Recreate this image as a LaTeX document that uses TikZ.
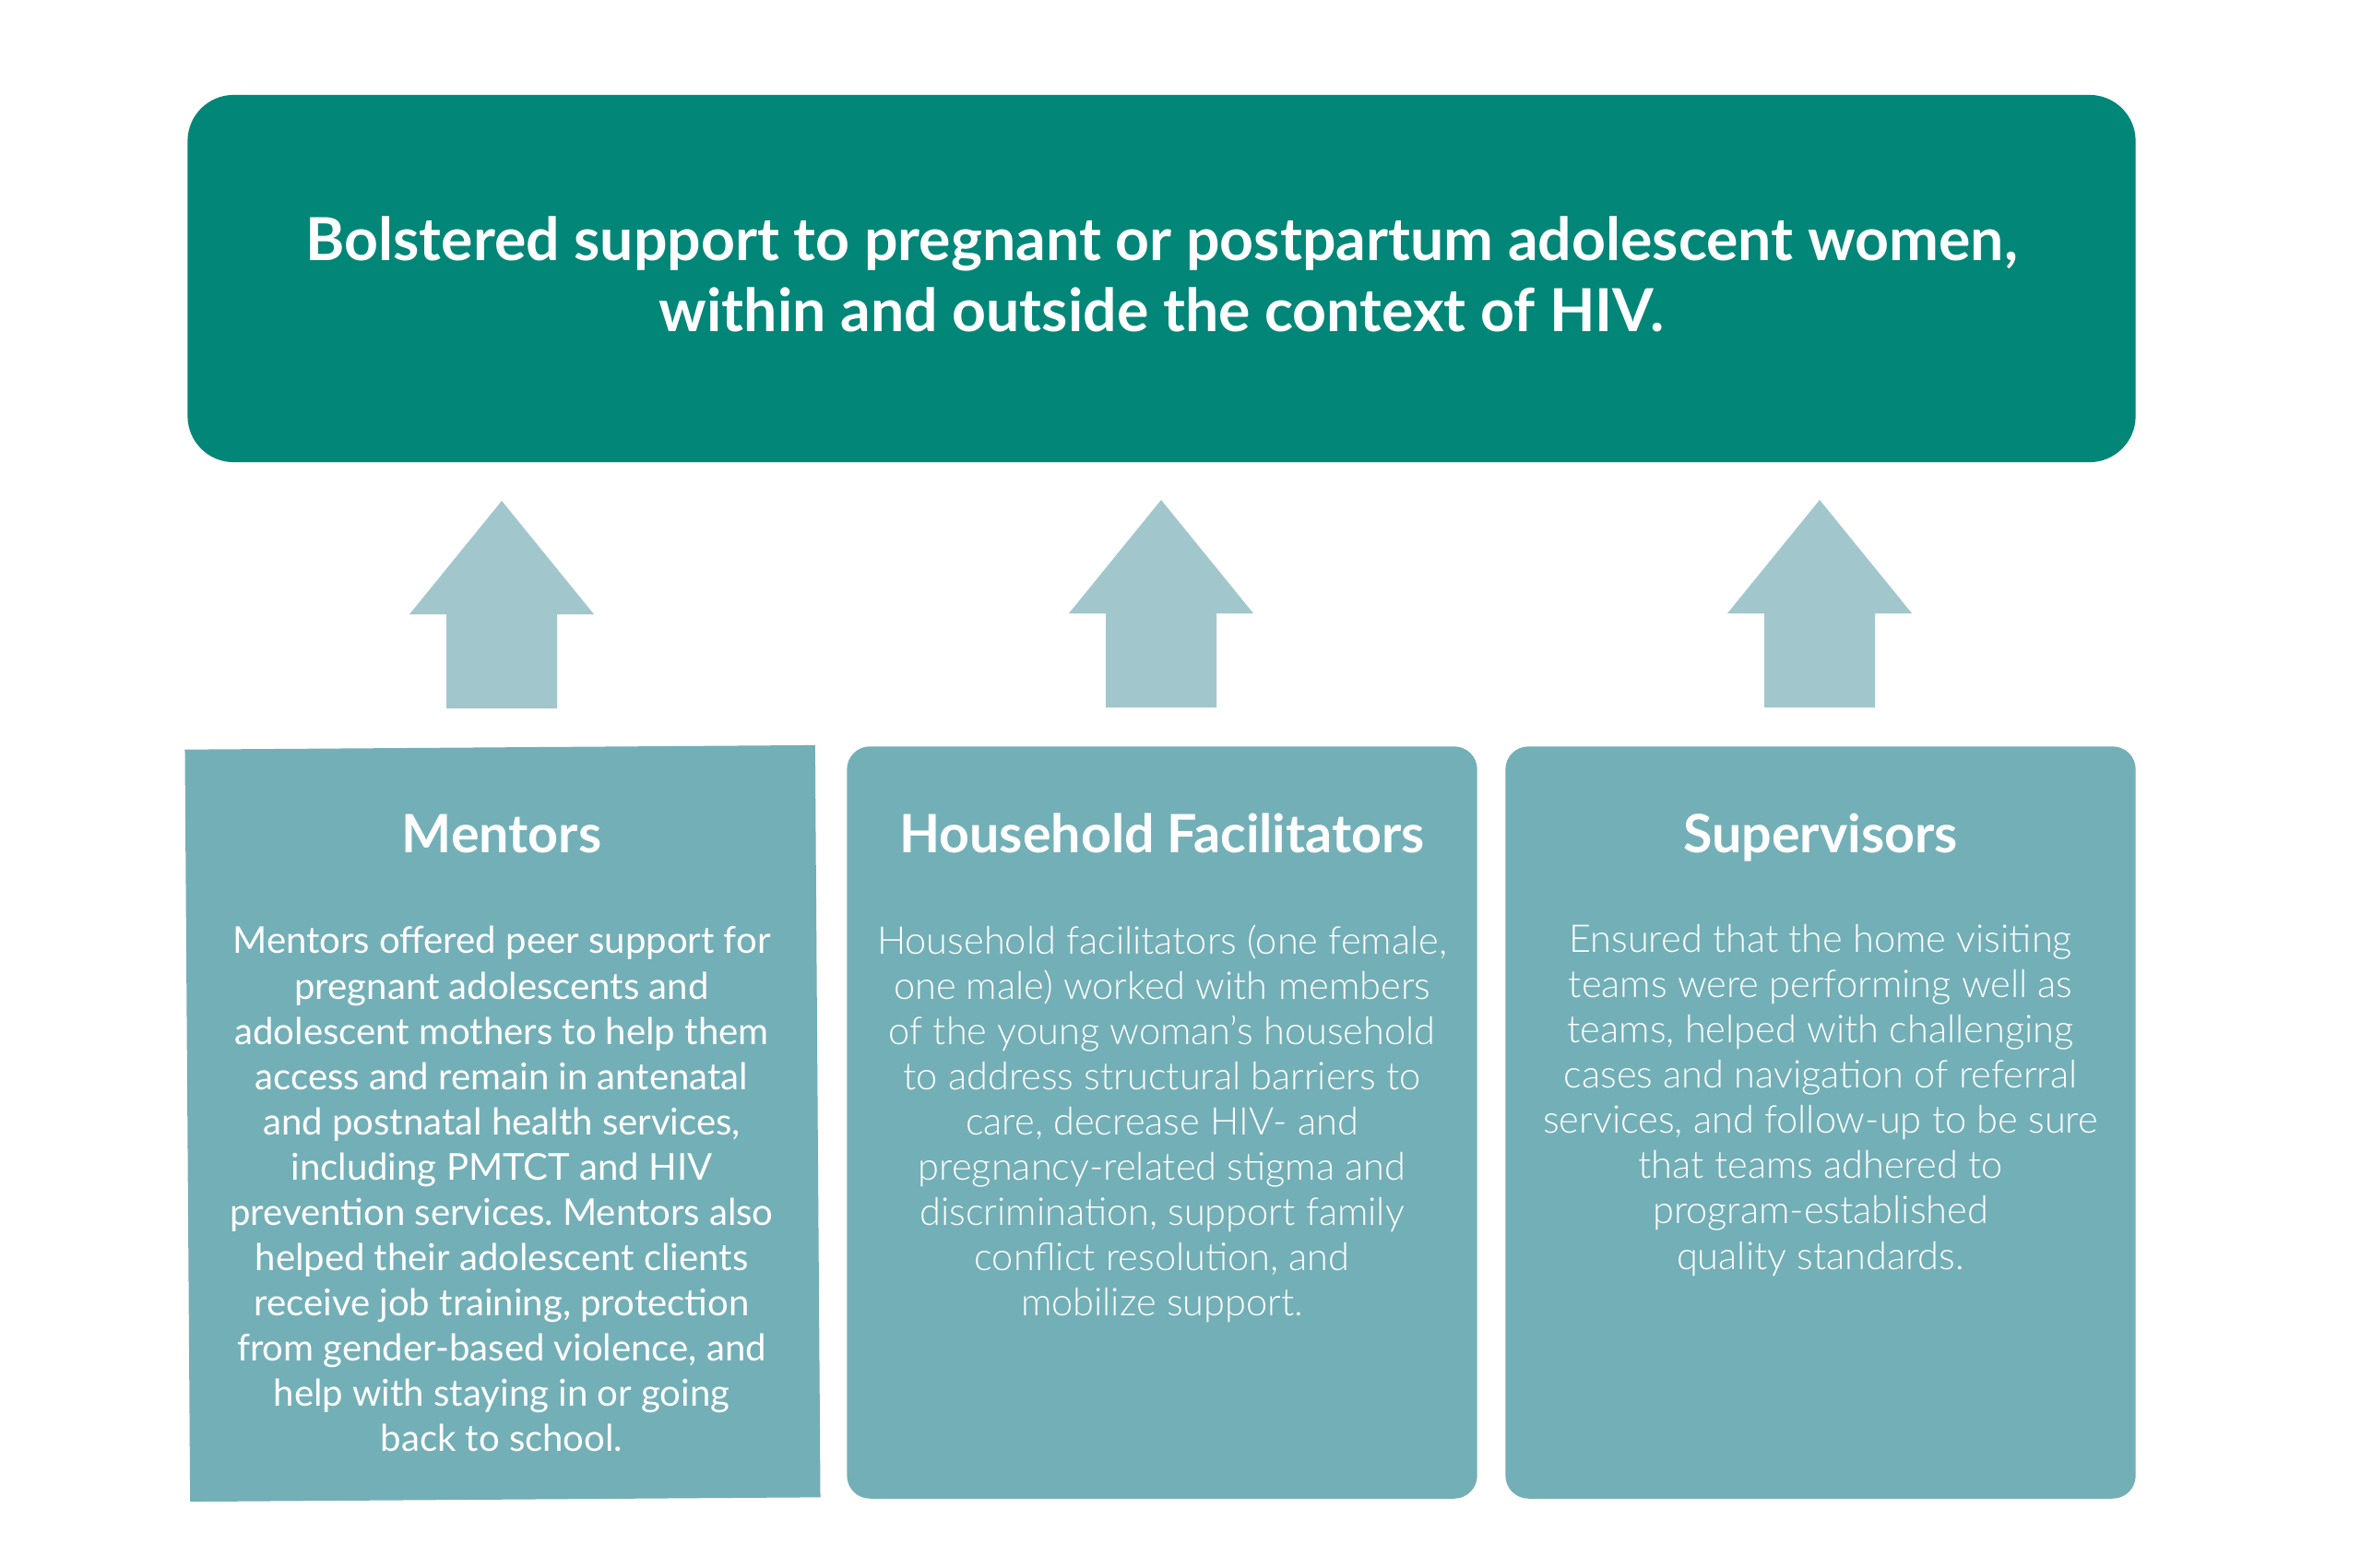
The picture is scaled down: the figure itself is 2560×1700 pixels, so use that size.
\documentclass[tikz,border=0pt]{standalone}
\usepackage{fontspec}
\setmainfont{Lato}
\newfontfamily\lightfont{Lato Light}
\usetikzlibrary{positioning}
\frenchspacing

\definecolor{darkteal}{RGB}{2,134,119}
\definecolor{boxteal}{RGB}{115,175,183}
\definecolor{arrowteal}{RGB}{161,199,205}

\begin{document}
\begin{tikzpicture}[
        x=0.01cm, y=-0.01cm,
        topbox/.style={fill=darkteal, rounded corners=0.5cm, minimum width=21.11cm, minimum height=3.98cm, inner sep=0pt},
        rolebox/.style={fill=boxteal, rounded corners=0.25cm, minimum width=6.83cm, minimum height=8.15cm, inner sep=0pt},
        headline/.style={text=white, align=center, font=\bfseries\fontsize{18.3}{21.9}\selectfont},
        roletitle/.style={text=white, anchor=base, font=\bfseries\fontsize{16.3}{19}\selectfont},
        roletext/.style={text=white, align=center, anchor=north, font=\lightfont\fontsize{11.8}{13.95}\selectfont},
        uparrow/.style={fill=arrowteal}
    ]
    \useasboundingbox[fill=white] (0,0) rectangle (2560,1700);

    % --- top: outcome ---
    \node (goal) [topbox] at (1259.5,302) {};
    \node (goaltext) [headline] at (1259.5,297) {Bolstered support to pregnant or postpartum adolescent women,\\within and outside the context of HIV.};

    % --- bottom: the three roles ---
    \node (mentors) [rolebox, rounded corners=0pt, rotate=0.4] at (545,1218) {};
    \node (household) [rolebox] at (1260,1217) {};
    \node (supervisors) [rolebox] at (1974,1217) {};

    \node (mentorstitle) [roletitle] at (544,924) {Mentors};
    \node (householdtitle) [roletitle] at (1260,924) {Household Facilitators};
    \node (supervisorstitle) [roletitle] at (1974,924) {Supervisors};

    \node (mentorstext) [roletext, font=\fontsize{11.4}{13.95}\selectfont] at (544,992) {Mentors offered peer support for\\pregnant adolescents and\\adolescent mothers to help them\\access and remain in antenatal\\and postnatal health services,\\including PMTCT and HIV\\prevention services. Mentors also\\helped their adolescent clients\\receive job training, protection\\from gender-based violence, and\\help with staying in or going\\back to school.};
    \node (householdtext) [roletext] at (1260,990) {Household facilitators (one female,\\one male) worked with members\\of the young woman’s household\\to address structural barriers to\\care, decrease HIV- and\\pregnancy-related stigma and\\discrimination, support family\\conflict resolution, and\\mobilize support.};
    \node (supervisorstext) [roletext] at (1974,990) {Ensured that the home visiting\\teams were performing well as\\teams, helped with challenging\\cases and navigation of referral\\services, and follow-up to be sure\\that teams adhered to\\program-established\\quality standards.};

    % --- arrows up to the outcome ---
    \foreach \b in {mentors,household,supervisors}
        \fill[uparrow] ([shift={(-61,-450)}]\b.center) -- ++(0,-102) -- ++(-40,0) -- ++(100,-123)
            -- ++(100,123) -- ++(-40,0) -- ++(0,102) -- cycle;
\end{tikzpicture}
\end{document}
